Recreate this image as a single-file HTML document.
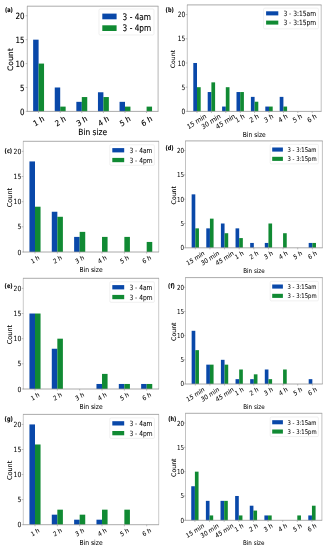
<!DOCTYPE html>
<html><head><meta charset="utf-8"><title>Figure</title>
<style>
html,body{margin:0;padding:0;background:#fff;}
svg{display:block}
svg text{stroke:#000;text-rendering:geometricPrecision;font-family:"DejaVu Sans","Liberation Sans",sans-serif;fill:#000000}
</style></head><body>
<svg width="327" height="550" viewBox="0 0 327 550">
<rect width="327" height="550" fill="#ffffff"/>
<g style="stroke-width:0.12px">
<rect x="33.15" y="39.67" width="5.45" height="71.73" fill="#0948a9"/>
<rect x="38.6" y="63.58" width="5.45" height="47.82" fill="#108a33"/>
<rect x="54.75" y="87.49" width="5.45" height="23.91" fill="#0948a9"/>
<rect x="60.2" y="106.62" width="5.45" height="4.78" fill="#108a33"/>
<rect x="76.35" y="101.84" width="5.45" height="9.56" fill="#0948a9"/>
<rect x="81.8" y="97.05" width="5.45" height="14.35" fill="#108a33"/>
<rect x="97.95" y="92.27" width="5.45" height="19.13" fill="#0948a9"/>
<rect x="103.4" y="97.05" width="5.45" height="14.35" fill="#108a33"/>
<rect x="119.55" y="101.84" width="5.45" height="9.56" fill="#0948a9"/>
<rect x="125" y="106.62" width="5.45" height="4.78" fill="#108a33"/>
<rect x="146.6" y="106.62" width="5.45" height="4.78" fill="#108a33"/>
<path d="M27.3 6.2V111.4M158.1 6.2V111.4" fill="none" stroke="#969696" stroke-width="0.7"/>
<path d="M27 6.2H158.4M27 111.4H158.4" fill="none" stroke="#969696" stroke-width="0.8"/>
<line x1="25.7" y1="111.4" x2="27.3" y2="111.4" stroke="#969696" stroke-width="0.6"/>
<text transform="translate(24.6 114.5) scale(0.83 1)" font-size="8.6" text-anchor="end">0</text>
<line x1="25.7" y1="87.49" x2="27.3" y2="87.49" stroke="#969696" stroke-width="0.6"/>
<text transform="translate(24.6 90.59) scale(0.83 1)" font-size="8.6" text-anchor="end">5</text>
<line x1="25.7" y1="63.58" x2="27.3" y2="63.58" stroke="#969696" stroke-width="0.6"/>
<text transform="translate(24.6 66.68) scale(0.83 1)" font-size="8.6" text-anchor="end">10</text>
<line x1="25.7" y1="39.67" x2="27.3" y2="39.67" stroke="#969696" stroke-width="0.6"/>
<text transform="translate(24.6 42.77) scale(0.83 1)" font-size="8.6" text-anchor="end">15</text>
<line x1="25.7" y1="15.76" x2="27.3" y2="15.76" stroke="#969696" stroke-width="0.6"/>
<text transform="translate(24.6 18.86) scale(0.83 1)" font-size="8.6" text-anchor="end">20</text>
<line x1="38.6" y1="111.4" x2="38.6" y2="113" stroke="#969696" stroke-width="0.6"/>
<text transform="translate(38.6 120.94) scale(0.88 1) rotate(-30)" y="2.96" font-size="8" text-anchor="middle">1 h</text>
<line x1="60.2" y1="111.4" x2="60.2" y2="113" stroke="#969696" stroke-width="0.6"/>
<text transform="translate(60.2 120.94) scale(0.88 1) rotate(-30)" y="2.96" font-size="8" text-anchor="middle">2 h</text>
<line x1="81.8" y1="111.4" x2="81.8" y2="113" stroke="#969696" stroke-width="0.6"/>
<text transform="translate(81.8 120.94) scale(0.88 1) rotate(-30)" y="2.96" font-size="8" text-anchor="middle">3 h</text>
<line x1="103.4" y1="111.4" x2="103.4" y2="113" stroke="#969696" stroke-width="0.6"/>
<text transform="translate(103.4 120.94) scale(0.88 1) rotate(-30)" y="2.96" font-size="8" text-anchor="middle">4 h</text>
<line x1="125" y1="111.4" x2="125" y2="113" stroke="#969696" stroke-width="0.6"/>
<text transform="translate(125 120.94) scale(0.88 1) rotate(-30)" y="2.96" font-size="8" text-anchor="middle">5 h</text>
<line x1="146.6" y1="111.4" x2="146.6" y2="113" stroke="#969696" stroke-width="0.6"/>
<text transform="translate(146.6 120.94) scale(0.88 1) rotate(-30)" y="2.96" font-size="8" text-anchor="middle">6 h</text>
<text transform="translate(92.7 135.1) scale(0.88 1)" font-size="8.5" text-anchor="middle">Bin size</text>
<text transform="translate(12.9 59.7) scale(0.97 1) rotate(-90)" font-size="7.69" text-anchor="middle">Count</text>
<rect x="99" y="9" width="55" height="26" rx="1.2" fill="#ffffff" fill-opacity="0.8" stroke="#e6e6e6" stroke-width="0.6"/>
<rect x="102.3" y="13.6" width="14.3" height="5.7" fill="#0948a9"/>
<text transform="translate(122.6 19.69) scale(0.82 1)" font-size="9">3 - 4am</text>
<rect x="102.3" y="25.3" width="14.3" height="5.7" fill="#108a33"/>
<text transform="translate(122.6 31.39) scale(0.82 1)" font-size="9">3 - 4pm</text>
<text transform="translate(4.9 11.9) scale(0.78 1)" font-size="6.4" font-weight="bold" stroke="#111" stroke-width="0.1" font-family="'Liberation Sans', sans-serif" fill="#111">(a)</text>
</g>
<g style="stroke-width:0.04px">
<rect x="193.3" y="62.99" width="3.7" height="48.41" fill="#0948a9"/>
<rect x="197" y="87.2" width="3.7" height="24.2" fill="#108a33"/>
<rect x="207.7" y="92.04" width="3.7" height="19.36" fill="#0948a9"/>
<rect x="211.4" y="82.35" width="3.7" height="29.05" fill="#108a33"/>
<rect x="222.1" y="106.56" width="3.7" height="4.84" fill="#0948a9"/>
<rect x="225.8" y="87.2" width="3.7" height="24.2" fill="#108a33"/>
<rect x="236.5" y="92.04" width="3.7" height="19.36" fill="#0948a9"/>
<rect x="240.2" y="92.04" width="3.7" height="19.36" fill="#108a33"/>
<rect x="250.9" y="96.88" width="3.7" height="14.52" fill="#0948a9"/>
<rect x="254.6" y="101.72" width="3.7" height="9.68" fill="#108a33"/>
<rect x="265.3" y="106.56" width="3.7" height="4.84" fill="#0948a9"/>
<rect x="269" y="106.56" width="3.7" height="4.84" fill="#108a33"/>
<rect x="279.7" y="96.88" width="3.7" height="14.52" fill="#0948a9"/>
<rect x="283.4" y="106.56" width="3.7" height="4.84" fill="#108a33"/>
<path d="M187.3 4.9V111.4M321.2 4.9V111.4" fill="none" stroke="#a8a8a8" stroke-width="0.7"/>
<path d="M187 4.9H321.5M187 111.4H321.5" fill="none" stroke="#969696" stroke-width="0.8"/>
<line x1="185.7" y1="111.4" x2="187.3" y2="111.4" stroke="#969696" stroke-width="0.6"/>
<text transform="translate(185.2 114.03) scale(0.8 1)" font-size="7.3" text-anchor="end">0</text>
<line x1="185.7" y1="87.2" x2="187.3" y2="87.2" stroke="#969696" stroke-width="0.6"/>
<text transform="translate(185.2 89.82) scale(0.8 1)" font-size="7.3" text-anchor="end">5</text>
<line x1="185.7" y1="62.99" x2="187.3" y2="62.99" stroke="#969696" stroke-width="0.6"/>
<text transform="translate(185.2 65.62) scale(0.8 1)" font-size="7.3" text-anchor="end">10</text>
<line x1="185.7" y1="38.79" x2="187.3" y2="38.79" stroke="#969696" stroke-width="0.6"/>
<text transform="translate(185.2 41.41) scale(0.8 1)" font-size="7.3" text-anchor="end">15</text>
<line x1="185.7" y1="14.58" x2="187.3" y2="14.58" stroke="#969696" stroke-width="0.6"/>
<text transform="translate(185.2 17.21) scale(0.8 1)" font-size="7.3" text-anchor="end">20</text>
<line x1="197" y1="111.4" x2="197" y2="113" stroke="#969696" stroke-width="0.6"/>
<text transform="translate(196.5 121.31) scale(0.88 1) rotate(-30)" y="2.55" font-size="6.9" text-anchor="middle">15 min</text>
<line x1="211.4" y1="111.4" x2="211.4" y2="113" stroke="#969696" stroke-width="0.6"/>
<text transform="translate(210.9 121.31) scale(0.88 1) rotate(-30)" y="2.55" font-size="6.9" text-anchor="middle">30 min</text>
<line x1="225.8" y1="111.4" x2="225.8" y2="113" stroke="#969696" stroke-width="0.6"/>
<text transform="translate(225.3 121.31) scale(0.88 1) rotate(-30)" y="2.55" font-size="6.9" text-anchor="middle">45 min</text>
<line x1="240.2" y1="111.4" x2="240.2" y2="113" stroke="#969696" stroke-width="0.6"/>
<text transform="translate(239.7 118.05) scale(0.88 1) rotate(-30)" y="2.55" font-size="6.9" text-anchor="middle">1 h</text>
<line x1="254.6" y1="111.4" x2="254.6" y2="113" stroke="#969696" stroke-width="0.6"/>
<text transform="translate(254.1 118.05) scale(0.88 1) rotate(-30)" y="2.55" font-size="6.9" text-anchor="middle">2 h</text>
<line x1="269" y1="111.4" x2="269" y2="113" stroke="#969696" stroke-width="0.6"/>
<text transform="translate(268.5 118.05) scale(0.88 1) rotate(-30)" y="2.55" font-size="6.9" text-anchor="middle">3 h</text>
<line x1="283.4" y1="111.4" x2="283.4" y2="113" stroke="#969696" stroke-width="0.6"/>
<text transform="translate(282.9 118.05) scale(0.88 1) rotate(-30)" y="2.55" font-size="6.9" text-anchor="middle">4 h</text>
<line x1="297.8" y1="111.4" x2="297.8" y2="113" stroke="#969696" stroke-width="0.6"/>
<text transform="translate(297.3 118.05) scale(0.88 1) rotate(-30)" y="2.55" font-size="6.9" text-anchor="middle">5 h</text>
<line x1="312.2" y1="111.4" x2="312.2" y2="113" stroke="#969696" stroke-width="0.6"/>
<text transform="translate(311.7 118.05) scale(0.88 1) rotate(-30)" y="2.55" font-size="6.9" text-anchor="middle">6 h</text>
<text transform="translate(254.25 136.5) scale(0.88 1)" font-size="6.8" text-anchor="middle">Bin size</text>
<text transform="translate(174.9 59.05) scale(0.97 1) rotate(-90)" font-size="6.15" text-anchor="middle">Count</text>
<rect x="263.6" y="8.1" width="54.8" height="20.8" rx="1.2" fill="#ffffff" fill-opacity="0.8" stroke="#e6e6e6" stroke-width="0.6"/>
<rect x="266.1" y="11.3" width="12.2" height="4.1" fill="#0948a9"/>
<text transform="translate(283.4 15.94) scale(0.83 1)" font-size="7.2">3 - 3:15am</text>
<rect x="266.1" y="20.6" width="12.2" height="4" fill="#108a33"/>
<text transform="translate(283.4 25.19) scale(0.83 1)" font-size="7.2">3 - 3:15pm</text>
<text transform="translate(165.6 11.6) scale(0.78 1)" font-size="6.4" font-weight="bold" stroke="#111" stroke-width="0.1" font-family="'Liberation Sans', sans-serif" fill="#111">(b)</text>
</g>
<g style="stroke-width:0.04px">
<rect x="29.45" y="161.43" width="5.55" height="90.57" fill="#0948a9"/>
<rect x="35" y="206.71" width="5.55" height="45.29" fill="#108a33"/>
<rect x="51.79" y="211.75" width="5.55" height="40.25" fill="#0948a9"/>
<rect x="57.34" y="216.78" width="5.55" height="35.22" fill="#108a33"/>
<rect x="74.13" y="236.9" width="5.55" height="15.1" fill="#0948a9"/>
<rect x="79.68" y="231.87" width="5.55" height="20.13" fill="#108a33"/>
<rect x="102.02" y="236.9" width="5.55" height="15.1" fill="#108a33"/>
<rect x="124.36" y="236.9" width="5.55" height="15.1" fill="#108a33"/>
<rect x="146.7" y="241.94" width="5.55" height="10.06" fill="#108a33"/>
<path d="M23.3 141.3V252M158.7 141.3V252" fill="none" stroke="#b4b4b4" stroke-width="0.7"/>
<path d="M23 141.3H159M23 252H159" fill="none" stroke="#969696" stroke-width="0.8"/>
<line x1="21.7" y1="252" x2="23.3" y2="252" stroke="#969696" stroke-width="0.6"/>
<text transform="translate(21.3 254.59) scale(0.84 1)" font-size="7.2" text-anchor="end">0</text>
<line x1="21.7" y1="226.84" x2="23.3" y2="226.84" stroke="#969696" stroke-width="0.6"/>
<text transform="translate(21.3 229.43) scale(0.84 1)" font-size="7.2" text-anchor="end">5</text>
<line x1="21.7" y1="201.68" x2="23.3" y2="201.68" stroke="#969696" stroke-width="0.6"/>
<text transform="translate(21.3 204.27) scale(0.84 1)" font-size="7.2" text-anchor="end">10</text>
<line x1="21.7" y1="176.52" x2="23.3" y2="176.52" stroke="#969696" stroke-width="0.6"/>
<text transform="translate(21.3 179.11) scale(0.84 1)" font-size="7.2" text-anchor="end">15</text>
<line x1="21.7" y1="151.36" x2="23.3" y2="151.36" stroke="#969696" stroke-width="0.6"/>
<text transform="translate(21.3 153.96) scale(0.84 1)" font-size="7.2" text-anchor="end">20</text>
<line x1="35" y1="252" x2="35" y2="253.6" stroke="#969696" stroke-width="0.6"/>
<text transform="translate(35 259.46) scale(0.88 1) rotate(-30)" y="2.4" font-size="6.5" text-anchor="middle">1 h</text>
<line x1="57.34" y1="252" x2="57.34" y2="253.6" stroke="#969696" stroke-width="0.6"/>
<text transform="translate(57.34 259.46) scale(0.88 1) rotate(-30)" y="2.4" font-size="6.5" text-anchor="middle">2 h</text>
<line x1="79.68" y1="252" x2="79.68" y2="253.6" stroke="#969696" stroke-width="0.6"/>
<text transform="translate(79.68 259.46) scale(0.88 1) rotate(-30)" y="2.4" font-size="6.5" text-anchor="middle">3 h</text>
<line x1="102.02" y1="252" x2="102.02" y2="253.6" stroke="#969696" stroke-width="0.6"/>
<text transform="translate(102.02 259.46) scale(0.88 1) rotate(-30)" y="2.4" font-size="6.5" text-anchor="middle">4 h</text>
<line x1="124.36" y1="252" x2="124.36" y2="253.6" stroke="#969696" stroke-width="0.6"/>
<text transform="translate(124.36 259.46) scale(0.88 1) rotate(-30)" y="2.4" font-size="6.5" text-anchor="middle">5 h</text>
<line x1="146.7" y1="252" x2="146.7" y2="253.6" stroke="#969696" stroke-width="0.6"/>
<text transform="translate(146.7 259.46) scale(0.88 1) rotate(-30)" y="2.4" font-size="6.5" text-anchor="middle">6 h</text>
<text transform="translate(91 271.6) scale(0.88 1)" font-size="6.85" text-anchor="middle">Bin size</text>
<text transform="translate(11.9 197.55) scale(1.03 1) rotate(-90)" font-size="6.51" text-anchor="middle">Count</text>
<rect x="109.8" y="144.8" width="44.6" height="20.5" rx="1.2" fill="#ffffff" fill-opacity="0.8" stroke="#e6e6e6" stroke-width="0.6"/>
<rect x="112.3" y="148.1" width="11.9" height="4.3" fill="#0948a9"/>
<text transform="translate(129.4 152.84) scale(0.83 1)" font-size="7.2">3 - 4am</text>
<rect x="112.3" y="157.9" width="11.9" height="4.3" fill="#108a33"/>
<text transform="translate(129.4 162.64) scale(0.83 1)" font-size="7.2">3 - 4pm</text>
<text transform="translate(4.6 152.6) scale(0.78 1)" font-size="6.4" font-weight="bold" stroke="#111" stroke-width="0.1" font-family="'Liberation Sans', sans-serif" fill="#111">(c)</text>
</g>
<g style="stroke-width:0.04px">
<rect x="191.65" y="194.35" width="3.65" height="53.45" fill="#0948a9"/>
<rect x="195.3" y="228.36" width="3.65" height="19.44" fill="#108a33"/>
<rect x="206.28" y="228.36" width="3.65" height="19.44" fill="#0948a9"/>
<rect x="209.93" y="218.65" width="3.65" height="29.15" fill="#108a33"/>
<rect x="220.91" y="223.5" width="3.65" height="24.3" fill="#0948a9"/>
<rect x="224.56" y="233.22" width="3.65" height="14.58" fill="#108a33"/>
<rect x="235.54" y="228.36" width="3.65" height="19.44" fill="#0948a9"/>
<rect x="239.19" y="238.08" width="3.65" height="9.72" fill="#108a33"/>
<rect x="250.17" y="242.94" width="3.65" height="4.86" fill="#0948a9"/>
<rect x="264.8" y="242.94" width="3.65" height="4.86" fill="#0948a9"/>
<rect x="268.45" y="223.5" width="3.65" height="24.3" fill="#108a33"/>
<rect x="283.08" y="233.22" width="3.65" height="14.58" fill="#108a33"/>
<rect x="308.69" y="242.94" width="3.65" height="4.86" fill="#0948a9"/>
<rect x="312.34" y="242.94" width="3.65" height="4.86" fill="#108a33"/>
<path d="M185.5 140.9V247.8M322.4 140.9V247.8" fill="none" stroke="#a8a8a8" stroke-width="0.7"/>
<path d="M185.2 140.9H322.7M185.2 247.8H322.7" fill="none" stroke="#969696" stroke-width="0.8"/>
<line x1="183.9" y1="247.8" x2="185.5" y2="247.8" stroke="#969696" stroke-width="0.6"/>
<text transform="translate(184.1 250.28) scale(0.8 1)" font-size="6.9" text-anchor="end">0</text>
<line x1="183.9" y1="223.5" x2="185.5" y2="223.5" stroke="#969696" stroke-width="0.6"/>
<text transform="translate(184.1 225.99) scale(0.8 1)" font-size="6.9" text-anchor="end">5</text>
<line x1="183.9" y1="199.21" x2="185.5" y2="199.21" stroke="#969696" stroke-width="0.6"/>
<text transform="translate(184.1 201.69) scale(0.8 1)" font-size="6.9" text-anchor="end">10</text>
<line x1="183.9" y1="174.91" x2="185.5" y2="174.91" stroke="#969696" stroke-width="0.6"/>
<text transform="translate(184.1 177.4) scale(0.8 1)" font-size="6.9" text-anchor="end">15</text>
<line x1="183.9" y1="150.62" x2="185.5" y2="150.62" stroke="#969696" stroke-width="0.6"/>
<text transform="translate(184.1 153.1) scale(0.8 1)" font-size="6.9" text-anchor="end">20</text>
<line x1="195.3" y1="247.8" x2="195.3" y2="249.4" stroke="#969696" stroke-width="0.6"/>
<text transform="translate(195.3 258.13) scale(0.88 1) rotate(-30)" y="2.4" font-size="6.5" text-anchor="middle">15 min</text>
<line x1="209.93" y1="247.8" x2="209.93" y2="249.4" stroke="#969696" stroke-width="0.6"/>
<text transform="translate(209.93 258.13) scale(0.88 1) rotate(-30)" y="2.4" font-size="6.5" text-anchor="middle">30 min</text>
<line x1="224.56" y1="247.8" x2="224.56" y2="249.4" stroke="#969696" stroke-width="0.6"/>
<text transform="translate(224.56 258.13) scale(0.88 1) rotate(-30)" y="2.4" font-size="6.5" text-anchor="middle">45 min</text>
<line x1="239.19" y1="247.8" x2="239.19" y2="249.4" stroke="#969696" stroke-width="0.6"/>
<text transform="translate(239.19 255.06) scale(0.88 1) rotate(-30)" y="2.4" font-size="6.5" text-anchor="middle">1 h</text>
<line x1="253.82" y1="247.8" x2="253.82" y2="249.4" stroke="#969696" stroke-width="0.6"/>
<text transform="translate(253.82 255.06) scale(0.88 1) rotate(-30)" y="2.4" font-size="6.5" text-anchor="middle">2 h</text>
<line x1="268.45" y1="247.8" x2="268.45" y2="249.4" stroke="#969696" stroke-width="0.6"/>
<text transform="translate(268.45 255.06) scale(0.88 1) rotate(-30)" y="2.4" font-size="6.5" text-anchor="middle">3 h</text>
<line x1="283.08" y1="247.8" x2="283.08" y2="249.4" stroke="#969696" stroke-width="0.6"/>
<text transform="translate(283.08 255.06) scale(0.88 1) rotate(-30)" y="2.4" font-size="6.5" text-anchor="middle">4 h</text>
<line x1="297.71" y1="247.8" x2="297.71" y2="249.4" stroke="#969696" stroke-width="0.6"/>
<text transform="translate(297.71 255.06) scale(0.88 1) rotate(-30)" y="2.4" font-size="6.5" text-anchor="middle">5 h</text>
<line x1="312.34" y1="247.8" x2="312.34" y2="249.4" stroke="#969696" stroke-width="0.6"/>
<text transform="translate(312.34 255.06) scale(0.88 1) rotate(-30)" y="2.4" font-size="6.5" text-anchor="middle">6 h</text>
<text transform="translate(253.95 272.5) scale(0.88 1)" font-size="6.35" text-anchor="middle">Bin size</text>
<text transform="translate(175.5 195.25) scale(1.01 1) rotate(-90)" font-size="6.21" text-anchor="middle">Count</text>
<rect x="270.2" y="144.3" width="48.2" height="19.6" rx="1.2" fill="#ffffff" fill-opacity="0.8" stroke="#e6e6e6" stroke-width="0.6"/>
<rect x="272.2" y="147.5" width="10.7" height="4.1" fill="#0948a9"/>
<text transform="translate(287.5 151.85) scale(0.83 1)" font-size="6.4">3 - 3:15am</text>
<rect x="272.2" y="156.8" width="10.7" height="4.1" fill="#108a33"/>
<text transform="translate(287.5 161.15) scale(0.83 1)" font-size="6.4">3 - 3:15pm</text>
<text transform="translate(165.5 149.6) scale(0.78 1)" font-size="6.4" font-weight="bold" stroke="#111" stroke-width="0.1" font-family="'Liberation Sans', sans-serif" fill="#111">(d)</text>
</g>
<g style="stroke-width:0.04px">
<rect x="29.45" y="313.52" width="5.55" height="75.48" fill="#0948a9"/>
<rect x="35" y="313.52" width="5.55" height="75.48" fill="#108a33"/>
<rect x="51.79" y="348.75" width="5.55" height="40.25" fill="#0948a9"/>
<rect x="57.34" y="338.68" width="5.55" height="50.32" fill="#108a33"/>
<rect x="96.47" y="383.97" width="5.55" height="5.03" fill="#0948a9"/>
<rect x="102.02" y="373.9" width="5.55" height="15.1" fill="#108a33"/>
<rect x="118.81" y="383.97" width="5.55" height="5.03" fill="#0948a9"/>
<rect x="124.36" y="383.97" width="5.55" height="5.03" fill="#108a33"/>
<rect x="141.15" y="383.97" width="5.55" height="5.03" fill="#0948a9"/>
<rect x="146.7" y="383.97" width="5.55" height="5.03" fill="#108a33"/>
<path d="M23.3 278.3V389M158.7 278.3V389" fill="none" stroke="#b4b4b4" stroke-width="0.7"/>
<path d="M23 278.3H159M23 389H159" fill="none" stroke="#969696" stroke-width="0.8"/>
<line x1="21.7" y1="389" x2="23.3" y2="389" stroke="#969696" stroke-width="0.6"/>
<text transform="translate(21.3 391.59) scale(0.84 1)" font-size="7.2" text-anchor="end">0</text>
<line x1="21.7" y1="363.84" x2="23.3" y2="363.84" stroke="#969696" stroke-width="0.6"/>
<text transform="translate(21.3 366.43) scale(0.84 1)" font-size="7.2" text-anchor="end">5</text>
<line x1="21.7" y1="338.68" x2="23.3" y2="338.68" stroke="#969696" stroke-width="0.6"/>
<text transform="translate(21.3 341.27) scale(0.84 1)" font-size="7.2" text-anchor="end">10</text>
<line x1="21.7" y1="313.52" x2="23.3" y2="313.52" stroke="#969696" stroke-width="0.6"/>
<text transform="translate(21.3 316.11) scale(0.84 1)" font-size="7.2" text-anchor="end">15</text>
<line x1="21.7" y1="288.36" x2="23.3" y2="288.36" stroke="#969696" stroke-width="0.6"/>
<text transform="translate(21.3 290.96) scale(0.84 1)" font-size="7.2" text-anchor="end">20</text>
<line x1="35" y1="389" x2="35" y2="390.6" stroke="#969696" stroke-width="0.6"/>
<text transform="translate(35 396.46) scale(0.88 1) rotate(-30)" y="2.4" font-size="6.5" text-anchor="middle">1 h</text>
<line x1="57.34" y1="389" x2="57.34" y2="390.6" stroke="#969696" stroke-width="0.6"/>
<text transform="translate(57.34 396.46) scale(0.88 1) rotate(-30)" y="2.4" font-size="6.5" text-anchor="middle">2 h</text>
<line x1="79.68" y1="389" x2="79.68" y2="390.6" stroke="#969696" stroke-width="0.6"/>
<text transform="translate(79.68 396.46) scale(0.88 1) rotate(-30)" y="2.4" font-size="6.5" text-anchor="middle">3 h</text>
<line x1="102.02" y1="389" x2="102.02" y2="390.6" stroke="#969696" stroke-width="0.6"/>
<text transform="translate(102.02 396.46) scale(0.88 1) rotate(-30)" y="2.4" font-size="6.5" text-anchor="middle">4 h</text>
<line x1="124.36" y1="389" x2="124.36" y2="390.6" stroke="#969696" stroke-width="0.6"/>
<text transform="translate(124.36 396.46) scale(0.88 1) rotate(-30)" y="2.4" font-size="6.5" text-anchor="middle">5 h</text>
<line x1="146.7" y1="389" x2="146.7" y2="390.6" stroke="#969696" stroke-width="0.6"/>
<text transform="translate(146.7 396.46) scale(0.88 1) rotate(-30)" y="2.4" font-size="6.5" text-anchor="middle">6 h</text>
<text transform="translate(91 409) scale(0.88 1)" font-size="6.85" text-anchor="middle">Bin size</text>
<text transform="translate(11.9 334.55) scale(1.03 1) rotate(-90)" font-size="6.51" text-anchor="middle">Count</text>
<rect x="109.8" y="281.8" width="44.6" height="20.5" rx="1.2" fill="#ffffff" fill-opacity="0.8" stroke="#e6e6e6" stroke-width="0.6"/>
<rect x="112.3" y="285.1" width="11.9" height="4.3" fill="#0948a9"/>
<text transform="translate(129.4 289.84) scale(0.83 1)" font-size="7.2">3 - 4am</text>
<rect x="112.3" y="294.9" width="11.9" height="4.3" fill="#108a33"/>
<text transform="translate(129.4 299.64) scale(0.83 1)" font-size="7.2">3 - 4pm</text>
<text transform="translate(4.6 288.4) scale(0.78 1)" font-size="6.4" font-weight="bold" stroke="#111" stroke-width="0.1" font-family="'Liberation Sans', sans-serif" fill="#111">(e)</text>
</g>
<g style="stroke-width:0.04px">
<rect x="191.65" y="330.8" width="3.65" height="53.2" fill="#0948a9"/>
<rect x="195.3" y="350.15" width="3.65" height="33.85" fill="#108a33"/>
<rect x="206.28" y="364.65" width="3.65" height="19.35" fill="#0948a9"/>
<rect x="209.93" y="364.65" width="3.65" height="19.35" fill="#108a33"/>
<rect x="220.91" y="359.82" width="3.65" height="24.18" fill="#0948a9"/>
<rect x="224.56" y="364.65" width="3.65" height="19.35" fill="#108a33"/>
<rect x="235.54" y="379.16" width="3.65" height="4.84" fill="#0948a9"/>
<rect x="239.19" y="369.49" width="3.65" height="14.51" fill="#108a33"/>
<rect x="250.17" y="379.16" width="3.65" height="4.84" fill="#0948a9"/>
<rect x="253.82" y="374.33" width="3.65" height="9.67" fill="#108a33"/>
<rect x="264.8" y="369.49" width="3.65" height="14.51" fill="#0948a9"/>
<rect x="268.45" y="379.16" width="3.65" height="4.84" fill="#108a33"/>
<rect x="283.08" y="369.49" width="3.65" height="14.51" fill="#108a33"/>
<rect x="308.69" y="379.16" width="3.65" height="4.84" fill="#0948a9"/>
<path d="M185.5 277.6V384M322.4 277.6V384" fill="none" stroke="#a8a8a8" stroke-width="0.7"/>
<path d="M185.2 277.6H322.7M185.2 384H322.7" fill="none" stroke="#969696" stroke-width="0.8"/>
<line x1="183.9" y1="384" x2="185.5" y2="384" stroke="#969696" stroke-width="0.6"/>
<text transform="translate(184.1 386.48) scale(0.8 1)" font-size="6.9" text-anchor="end">0</text>
<line x1="183.9" y1="359.82" x2="185.5" y2="359.82" stroke="#969696" stroke-width="0.6"/>
<text transform="translate(184.1 362.3) scale(0.8 1)" font-size="6.9" text-anchor="end">5</text>
<line x1="183.9" y1="335.64" x2="185.5" y2="335.64" stroke="#969696" stroke-width="0.6"/>
<text transform="translate(184.1 338.12) scale(0.8 1)" font-size="6.9" text-anchor="end">10</text>
<line x1="183.9" y1="311.45" x2="185.5" y2="311.45" stroke="#969696" stroke-width="0.6"/>
<text transform="translate(184.1 313.94) scale(0.8 1)" font-size="6.9" text-anchor="end">15</text>
<line x1="183.9" y1="287.27" x2="185.5" y2="287.27" stroke="#969696" stroke-width="0.6"/>
<text transform="translate(184.1 289.76) scale(0.8 1)" font-size="6.9" text-anchor="end">20</text>
<line x1="195.3" y1="384" x2="195.3" y2="385.6" stroke="#969696" stroke-width="0.6"/>
<text transform="translate(195.3 394.33) scale(0.88 1) rotate(-30)" y="2.4" font-size="6.5" text-anchor="middle">15 min</text>
<line x1="209.93" y1="384" x2="209.93" y2="385.6" stroke="#969696" stroke-width="0.6"/>
<text transform="translate(209.93 394.33) scale(0.88 1) rotate(-30)" y="2.4" font-size="6.5" text-anchor="middle">30 min</text>
<line x1="224.56" y1="384" x2="224.56" y2="385.6" stroke="#969696" stroke-width="0.6"/>
<text transform="translate(224.56 394.33) scale(0.88 1) rotate(-30)" y="2.4" font-size="6.5" text-anchor="middle">45 min</text>
<line x1="239.19" y1="384" x2="239.19" y2="385.6" stroke="#969696" stroke-width="0.6"/>
<text transform="translate(239.19 391.26) scale(0.88 1) rotate(-30)" y="2.4" font-size="6.5" text-anchor="middle">1 h</text>
<line x1="253.82" y1="384" x2="253.82" y2="385.6" stroke="#969696" stroke-width="0.6"/>
<text transform="translate(253.82 391.26) scale(0.88 1) rotate(-30)" y="2.4" font-size="6.5" text-anchor="middle">2 h</text>
<line x1="268.45" y1="384" x2="268.45" y2="385.6" stroke="#969696" stroke-width="0.6"/>
<text transform="translate(268.45 391.26) scale(0.88 1) rotate(-30)" y="2.4" font-size="6.5" text-anchor="middle">3 h</text>
<line x1="283.08" y1="384" x2="283.08" y2="385.6" stroke="#969696" stroke-width="0.6"/>
<text transform="translate(283.08 391.26) scale(0.88 1) rotate(-30)" y="2.4" font-size="6.5" text-anchor="middle">4 h</text>
<line x1="297.71" y1="384" x2="297.71" y2="385.6" stroke="#969696" stroke-width="0.6"/>
<text transform="translate(297.71 391.26) scale(0.88 1) rotate(-30)" y="2.4" font-size="6.5" text-anchor="middle">5 h</text>
<line x1="312.34" y1="384" x2="312.34" y2="385.6" stroke="#969696" stroke-width="0.6"/>
<text transform="translate(312.34 391.26) scale(0.88 1) rotate(-30)" y="2.4" font-size="6.5" text-anchor="middle">6 h</text>
<text transform="translate(253.95 409.3) scale(0.88 1)" font-size="6.35" text-anchor="middle">Bin size</text>
<text transform="translate(175.5 331.7) scale(1.01 1) rotate(-90)" font-size="6.21" text-anchor="middle">Count</text>
<rect x="270.2" y="281.3" width="48.2" height="19.6" rx="1.2" fill="#ffffff" fill-opacity="0.8" stroke="#e6e6e6" stroke-width="0.6"/>
<rect x="272.2" y="284.5" width="10.7" height="4.1" fill="#0948a9"/>
<text transform="translate(287.5 288.85) scale(0.83 1)" font-size="6.4">3 - 3:15am</text>
<rect x="272.2" y="293.8" width="10.7" height="4.1" fill="#108a33"/>
<text transform="translate(287.5 298.15) scale(0.83 1)" font-size="6.4">3 - 3:15pm</text>
<text transform="translate(168.1 287.6) scale(0.78 1)" font-size="6.4" font-weight="bold" stroke="#111" stroke-width="0.1" font-family="'Liberation Sans', sans-serif" fill="#111">(f)</text>
</g>
<g style="stroke-width:0.04px">
<rect x="29.45" y="424.43" width="5.55" height="100.27" fill="#0948a9"/>
<rect x="35" y="444.48" width="5.55" height="80.22" fill="#108a33"/>
<rect x="51.79" y="514.67" width="5.55" height="10.03" fill="#0948a9"/>
<rect x="57.34" y="509.66" width="5.55" height="15.04" fill="#108a33"/>
<rect x="74.13" y="519.69" width="5.55" height="5.01" fill="#0948a9"/>
<rect x="79.68" y="514.67" width="5.55" height="10.03" fill="#108a33"/>
<rect x="96.47" y="519.69" width="5.55" height="5.01" fill="#0948a9"/>
<rect x="102.02" y="509.66" width="5.55" height="15.04" fill="#108a33"/>
<rect x="124.36" y="509.66" width="5.55" height="15.04" fill="#108a33"/>
<path d="M23.3 414.4V524.7M158.7 414.4V524.7" fill="none" stroke="#b4b4b4" stroke-width="0.7"/>
<path d="M23 414.4H159M23 524.7H159" fill="none" stroke="#969696" stroke-width="0.8"/>
<line x1="21.7" y1="524.7" x2="23.3" y2="524.7" stroke="#969696" stroke-width="0.6"/>
<text transform="translate(21.3 527.29) scale(0.84 1)" font-size="7.2" text-anchor="end">0</text>
<line x1="21.7" y1="499.63" x2="23.3" y2="499.63" stroke="#969696" stroke-width="0.6"/>
<text transform="translate(21.3 502.22) scale(0.84 1)" font-size="7.2" text-anchor="end">5</text>
<line x1="21.7" y1="474.56" x2="23.3" y2="474.56" stroke="#969696" stroke-width="0.6"/>
<text transform="translate(21.3 477.16) scale(0.84 1)" font-size="7.2" text-anchor="end">10</text>
<line x1="21.7" y1="449.5" x2="23.3" y2="449.5" stroke="#969696" stroke-width="0.6"/>
<text transform="translate(21.3 452.09) scale(0.84 1)" font-size="7.2" text-anchor="end">15</text>
<line x1="21.7" y1="424.43" x2="23.3" y2="424.43" stroke="#969696" stroke-width="0.6"/>
<text transform="translate(21.3 427.02) scale(0.84 1)" font-size="7.2" text-anchor="end">20</text>
<line x1="35" y1="524.7" x2="35" y2="526.3" stroke="#969696" stroke-width="0.6"/>
<text transform="translate(35 532.16) scale(0.88 1) rotate(-30)" y="2.4" font-size="6.5" text-anchor="middle">1 h</text>
<line x1="57.34" y1="524.7" x2="57.34" y2="526.3" stroke="#969696" stroke-width="0.6"/>
<text transform="translate(57.34 532.16) scale(0.88 1) rotate(-30)" y="2.4" font-size="6.5" text-anchor="middle">2 h</text>
<line x1="79.68" y1="524.7" x2="79.68" y2="526.3" stroke="#969696" stroke-width="0.6"/>
<text transform="translate(79.68 532.16) scale(0.88 1) rotate(-30)" y="2.4" font-size="6.5" text-anchor="middle">3 h</text>
<line x1="102.02" y1="524.7" x2="102.02" y2="526.3" stroke="#969696" stroke-width="0.6"/>
<text transform="translate(102.02 532.16) scale(0.88 1) rotate(-30)" y="2.4" font-size="6.5" text-anchor="middle">4 h</text>
<line x1="124.36" y1="524.7" x2="124.36" y2="526.3" stroke="#969696" stroke-width="0.6"/>
<text transform="translate(124.36 532.16) scale(0.88 1) rotate(-30)" y="2.4" font-size="6.5" text-anchor="middle">5 h</text>
<line x1="146.7" y1="524.7" x2="146.7" y2="526.3" stroke="#969696" stroke-width="0.6"/>
<text transform="translate(146.7 532.16) scale(0.88 1) rotate(-30)" y="2.4" font-size="6.5" text-anchor="middle">6 h</text>
<text transform="translate(91 544.9) scale(0.88 1)" font-size="6.85" text-anchor="middle">Bin size</text>
<text transform="translate(11.9 470.45) scale(1.03 1) rotate(-90)" font-size="6.51" text-anchor="middle">Count</text>
<rect x="109.8" y="417.9" width="44.6" height="20.5" rx="1.2" fill="#ffffff" fill-opacity="0.8" stroke="#e6e6e6" stroke-width="0.6"/>
<rect x="112.3" y="421.2" width="11.9" height="4.3" fill="#0948a9"/>
<text transform="translate(129.4 425.94) scale(0.83 1)" font-size="7.2">3 - 4am</text>
<rect x="112.3" y="431" width="11.9" height="4.3" fill="#108a33"/>
<text transform="translate(129.4 435.74) scale(0.83 1)" font-size="7.2">3 - 4pm</text>
<text transform="translate(4.6 421.1) scale(0.78 1)" font-size="6.4" font-weight="bold" stroke="#111" stroke-width="0.1" font-family="'Liberation Sans', sans-serif" fill="#111">(g)</text>
</g>
<g style="stroke-width:0.04px">
<rect x="191.25" y="486.25" width="3.65" height="34.05" fill="#0948a9"/>
<rect x="194.9" y="471.66" width="3.65" height="48.64" fill="#108a33"/>
<rect x="205.88" y="500.85" width="3.65" height="19.45" fill="#0948a9"/>
<rect x="209.53" y="515.44" width="3.65" height="4.86" fill="#108a33"/>
<rect x="220.51" y="500.85" width="3.65" height="19.45" fill="#0948a9"/>
<rect x="224.16" y="500.85" width="3.65" height="19.45" fill="#108a33"/>
<rect x="235.14" y="495.98" width="3.65" height="24.32" fill="#0948a9"/>
<rect x="238.79" y="515.44" width="3.65" height="4.86" fill="#108a33"/>
<rect x="249.77" y="505.71" width="3.65" height="14.59" fill="#0948a9"/>
<rect x="253.42" y="510.57" width="3.65" height="9.73" fill="#108a33"/>
<rect x="264.4" y="515.44" width="3.65" height="4.86" fill="#0948a9"/>
<rect x="268.05" y="515.44" width="3.65" height="4.86" fill="#108a33"/>
<rect x="297.31" y="515.44" width="3.65" height="4.86" fill="#108a33"/>
<rect x="308.29" y="515.44" width="3.65" height="4.86" fill="#0948a9"/>
<rect x="311.94" y="505.71" width="3.65" height="14.59" fill="#108a33"/>
<path d="M185.5 413.3V520.3M321.9 413.3V520.3" fill="none" stroke="#a8a8a8" stroke-width="0.7"/>
<path d="M185.2 413.3H322.2M185.2 520.3H322.2" fill="none" stroke="#969696" stroke-width="0.8"/>
<line x1="183.9" y1="520.3" x2="185.5" y2="520.3" stroke="#969696" stroke-width="0.6"/>
<text transform="translate(184.1 522.78) scale(0.8 1)" font-size="6.9" text-anchor="end">0</text>
<line x1="183.9" y1="495.98" x2="185.5" y2="495.98" stroke="#969696" stroke-width="0.6"/>
<text transform="translate(184.1 498.47) scale(0.8 1)" font-size="6.9" text-anchor="end">5</text>
<line x1="183.9" y1="471.66" x2="185.5" y2="471.66" stroke="#969696" stroke-width="0.6"/>
<text transform="translate(184.1 474.15) scale(0.8 1)" font-size="6.9" text-anchor="end">10</text>
<line x1="183.9" y1="447.35" x2="185.5" y2="447.35" stroke="#969696" stroke-width="0.6"/>
<text transform="translate(184.1 449.83) scale(0.8 1)" font-size="6.9" text-anchor="end">15</text>
<line x1="183.9" y1="423.03" x2="185.5" y2="423.03" stroke="#969696" stroke-width="0.6"/>
<text transform="translate(184.1 425.51) scale(0.8 1)" font-size="6.9" text-anchor="end">20</text>
<line x1="194.9" y1="520.3" x2="194.9" y2="521.9" stroke="#969696" stroke-width="0.6"/>
<text transform="translate(194.9 530.63) scale(0.88 1) rotate(-30)" y="2.4" font-size="6.5" text-anchor="middle">15 min</text>
<line x1="209.53" y1="520.3" x2="209.53" y2="521.9" stroke="#969696" stroke-width="0.6"/>
<text transform="translate(209.53 530.63) scale(0.88 1) rotate(-30)" y="2.4" font-size="6.5" text-anchor="middle">30 min</text>
<line x1="224.16" y1="520.3" x2="224.16" y2="521.9" stroke="#969696" stroke-width="0.6"/>
<text transform="translate(224.16 530.63) scale(0.88 1) rotate(-30)" y="2.4" font-size="6.5" text-anchor="middle">45 min</text>
<line x1="238.79" y1="520.3" x2="238.79" y2="521.9" stroke="#969696" stroke-width="0.6"/>
<text transform="translate(238.79 527.56) scale(0.88 1) rotate(-30)" y="2.4" font-size="6.5" text-anchor="middle">1 h</text>
<line x1="253.42" y1="520.3" x2="253.42" y2="521.9" stroke="#969696" stroke-width="0.6"/>
<text transform="translate(253.42 527.56) scale(0.88 1) rotate(-30)" y="2.4" font-size="6.5" text-anchor="middle">2 h</text>
<line x1="268.05" y1="520.3" x2="268.05" y2="521.9" stroke="#969696" stroke-width="0.6"/>
<text transform="translate(268.05 527.56) scale(0.88 1) rotate(-30)" y="2.4" font-size="6.5" text-anchor="middle">3 h</text>
<line x1="282.68" y1="520.3" x2="282.68" y2="521.9" stroke="#969696" stroke-width="0.6"/>
<text transform="translate(282.68 527.56) scale(0.88 1) rotate(-30)" y="2.4" font-size="6.5" text-anchor="middle">4 h</text>
<line x1="297.31" y1="520.3" x2="297.31" y2="521.9" stroke="#969696" stroke-width="0.6"/>
<text transform="translate(297.31 527.56) scale(0.88 1) rotate(-30)" y="2.4" font-size="6.5" text-anchor="middle">5 h</text>
<line x1="311.94" y1="520.3" x2="311.94" y2="521.9" stroke="#969696" stroke-width="0.6"/>
<text transform="translate(311.94 527.56) scale(0.88 1) rotate(-30)" y="2.4" font-size="6.5" text-anchor="middle">6 h</text>
<text transform="translate(253.7 545.3) scale(0.88 1)" font-size="6.35" text-anchor="middle">Bin size</text>
<text transform="translate(175.5 467.7) scale(1.01 1) rotate(-90)" font-size="6.21" text-anchor="middle">Count</text>
<rect x="270.2" y="417" width="48.2" height="19.6" rx="1.2" fill="#ffffff" fill-opacity="0.8" stroke="#e6e6e6" stroke-width="0.6"/>
<rect x="272.2" y="420.2" width="10.7" height="4.1" fill="#0948a9"/>
<text transform="translate(287.5 424.55) scale(0.83 1)" font-size="6.4">3 - 3:15am</text>
<rect x="272.2" y="429.5" width="10.7" height="4.1" fill="#108a33"/>
<text transform="translate(287.5 433.85) scale(0.83 1)" font-size="6.4">3 - 3:15pm</text>
<text transform="translate(168.2 421.3) scale(0.78 1)" font-size="6.4" font-weight="bold" stroke="#111" stroke-width="0.1" font-family="'Liberation Sans', sans-serif" fill="#111">(h)</text>
</g>
</svg>
</body></html>
